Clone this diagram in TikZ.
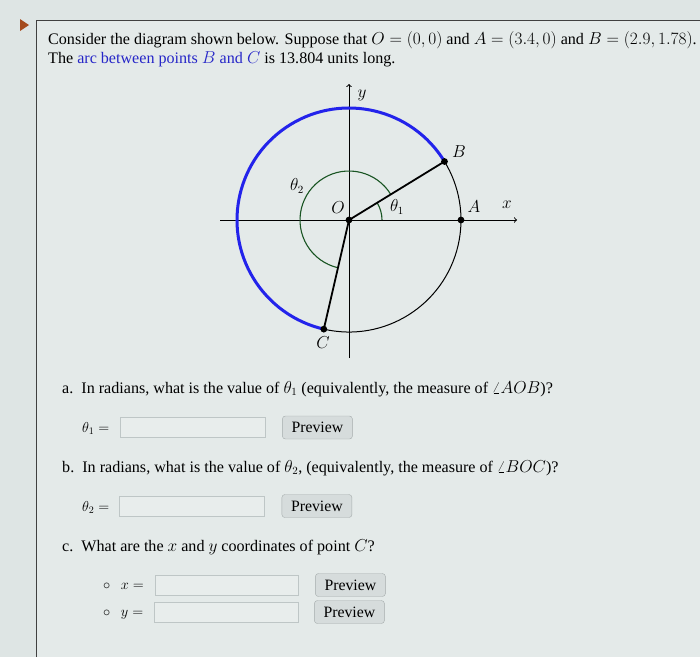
\documentclass[tikz,border=0pt]{standalone}
\usepackage{fontspec}
\setmainfont{Liberation Serif}
\usetikzlibrary{positioning,calc}

\definecolor{pagebg}{RGB}{222,229,228}
\definecolor{panelbg}{RGB}{228,234,233}
\definecolor{linkblue}{RGB}{38,38,200}
\definecolor{arcblue}{RGB}{35,35,235}
\definecolor{anglegreen}{RGB}{25,85,35}
\definecolor{boxedge}{RGB}{190,198,198}
\definecolor{boxfill}{RGB}{232,237,236}
\definecolor{btnfill}{RGB}{214,220,220}
\definecolor{btnedge}{RGB}{165,172,172}
\definecolor{marker}{RGB}{165,75,30}

\begin{document}
\begin{tikzpicture}[
  x=1pt, y=-1pt,
  qtext/.style={anchor=base west, inner sep=0pt, font=\fontsize{16.1}{19}\selectfont},
  anstext/.style={anchor=base west, inner sep=0pt, font=\fontsize{14}{16}\selectfont},
  answerbox/.style={draw=boxedge, fill=boxfill, minimum width=145pt, minimum height=20pt, inner sep=0pt},
  previewbtn/.style={draw=btnedge, fill=btnfill, rounded corners=3pt, minimum width=70pt,
    minimum height=23pt, inner sep=0pt, font=\fontsize{15.8}{18}\selectfont},
  ptlabel/.style={font=\fontsize{16}{18}\selectfont, inner sep=0pt},
  ]
  \fill[pagebg] (0,0) rectangle (700,657);
  \useasboundingbox (0,0) rectangle (700,657);
  \fill[panelbg] (36,20) rectangle (700,657);
  \draw[black!75, line width=1pt] (36,657) -- (36,20) -- (700,20);
  \fill[marker] (20,19) -- (29,25) -- (20,31) -- cycle;

  \node[qtext] (intro-1) at (48,44)
  {Consider the diagram shown below. Suppose that $O=(0,0)$ and $A=(3.4,0)$ and $B=(2.9,1.78)$.};
  \node[qtext] (intro-2) at (48,63)
  {The \textcolor{linkblue}{arc between points $B$ and $C$} is 13.804 units long.};

  \begin{scope}[shift={(349,220)}, y=1pt]
    \coordinate (O) at (0,0);
    \coordinate (A) at (0:112);
    \coordinate (B) at (31.5:112);
    \coordinate (C) at (257:112);
    \coordinate (x-begin) at (-129,0);
    \coordinate (x-end)   at (168,0);
    \coordinate (y-begin) at (0,-138);
    \coordinate (y-end)   at (0,136);
    \draw[line width=1pt, ->] (x-begin) -- (x-end);
    \draw[line width=1pt, ->] (y-begin) -- (y-end);
    \draw[arcblue, line width=3pt] (B) arc[start angle=31.5, end angle=257, radius=112];
    \draw[line width=1pt] (C) arc[start angle=257, end angle=391.5, radius=112];
    \draw[anglegreen, line width=1.1pt] ($(O)+(31.5:49)$) arc[start angle=31.5, end angle=257, radius=49];
    \draw[anglegreen, line width=1.1pt] ($(O)+(0:33)$) arc[start angle=0, end angle=31.5, radius=33];
    \draw[line width=1.8pt] (O) -- (B);
    \draw[line width=1.8pt] (O) -- (C);
    \foreach \p in {O,A,B,C}
      \fill (\p) circle[radius=3.4];
    \node[ptlabel] (label-y)  at (13,125)  {$y$};
    \node[ptlabel] (label-x)  at (158,15)  {$x$};
    \node[ptlabel] (label-B)  at (110,68)  {$B$};
    \node[ptlabel] (label-A)  at (125,13)  {$A$};
    \node[ptlabel] (label-O)  at (-11,12)  {$O$};
    \node[ptlabel] (label-C)  at (-26,-123) {$C$};
    \node[ptlabel] (label-t1) at (48,13)   {$\theta_1$};
    \node[ptlabel] (label-t2) at (-52,34)  {$\theta_2$};
  \end{scope}

  \node[qtext] (quest-a) at (62,393)
  {a.\ \ In radians, what is the value of $\theta_1$ (equivalently, the measure of $\angle AOB$)?};
  \node[anstext] (ans-t1) at (82,432) {$\theta_1 =$};
  \node[answerbox] (box-t1) at (192.5,427.5) {};
  \node[previewbtn, right=17pt of box-t1] (btn-t1) {Preview};

  \node[qtext] (quest-b) at (62,472)
  {b.\ \ In radians, what is the value of $\theta_2$, (equivalently, the measure of $\angle BOC$)?};
  \node[anstext] (ans-t2) at (82,511) {$\theta_2 =$};
  \node[answerbox] (box-t2) at (192,506) {};
  \node[previewbtn, right=17pt of box-t2] (btn-t2) {Preview};

  \node[qtext] (quest-c) at (62,551)
  {c.\ \ What are the $x$ and $y$ coordinates of point $C$?};
  \node[anstext] (ans-x) at (103,589) {$\circ$\ \ \ $x =$};
  \node[answerbox, minimum width=143pt] (box-x) at (226.5,585) {};
  \node[previewbtn, right=17pt of box-x] (btn-x) {Preview};
  \node[anstext] (ans-y) at (103,616) {$\circ$\ \ \ $y =$};
  \node[answerbox, minimum width=144pt] (box-y) at (226,612) {};
  \node[previewbtn, right=16pt of box-y] (btn-y) {Preview};
\end{tikzpicture}
\end{document}
